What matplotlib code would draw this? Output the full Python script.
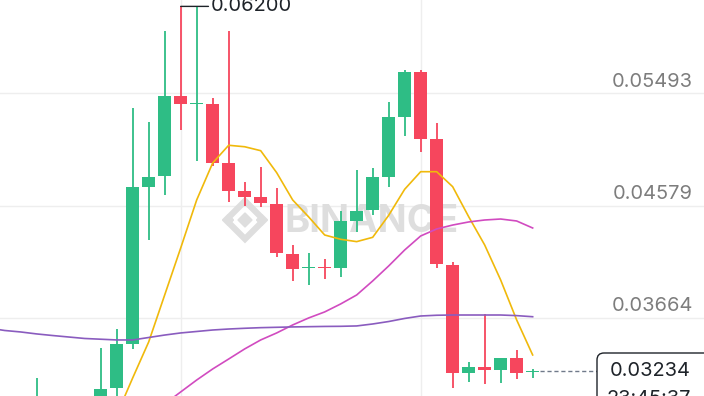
import numpy as np
import matplotlib.pyplot as plt
from matplotlib.patches import FancyBboxPatch
from matplotlib.transforms import IdentityTransform

plt.rcParams['font.family'] = ['Inter', 'DejaVu Sans']

# candles (oldest -> newest)
opens = [0.0290, 0.0293, 0.0291, 0.0294, 0.0298, 0.0292, 0.0296, 0.0294, 0.03093, 0.03453,
         0.04733, 0.04820, 0.05471, 0.05408, 0.05406, 0.04923, 0.04701, 0.04652, 0.04592, 0.04183,
         0.04074, 0.04082, 0.04074, 0.04456, 0.04544, 0.04814, 0.05303, 0.05664, 0.05119, 0.04096,
         0.03215, 0.03269, 0.03242, 0.03337, 0.03223]
highs = [0.0296, 0.0299, 0.0298, 0.03176, 0.0301, 0.0300, 0.0300, 0.03418, 0.03573, 0.05371,
         0.05257, 0.06000, 0.06200, 0.06195, 0.05452, 0.06000, 0.04769, 0.04891, 0.04720, 0.04259,
         0.04196, 0.04142, 0.04538, 0.04869, 0.04883, 0.05420, 0.05683, 0.05683, 0.05249, 0.04123,
         0.03304, 0.03695, 0.03340, 0.03405, 0.03249]
lows = [0.0285, 0.0288, 0.0286, 0.0290, 0.0289, 0.0287, 0.0290, 0.0291, 0.0300, 0.0341,
        0.04299, 0.04666, 0.05194, 0.04942, 0.04904, 0.04609, 0.04576, 0.04568, 0.04164, 0.03966,
        0.03935, 0.03980, 0.04001, 0.04367, 0.04503, 0.04728, 0.05146, 0.05018, 0.04069, 0.03093,
        0.03142, 0.03125, 0.03134, 0.03166, 0.03175]
closes = [0.0293, 0.0291, 0.0295, 0.0298, 0.0292, 0.0296, 0.0294, 0.03087, 0.03451, 0.04733,
          0.04814, 0.05471, 0.05406, 0.05415, 0.04926, 0.04701, 0.04652, 0.04601, 0.04191, 0.04066,
          0.04080, 0.04070, 0.04456, 0.04538, 0.04814, 0.05298, 0.05669, 0.05119, 0.04104, 0.03215,
          0.03269, 0.03242, 0.03337, 0.03215, 0.03234]

ma7 = [None] * 8 + [0.02876, 0.03177, 0.03470, 0.03852, 0.04234, 0.04625, 0.04926, 0.05070,
                    0.05058, 0.05026, 0.04847, 0.04625, 0.04487, 0.04340, 0.04305, 0.04286,
                    0.04321, 0.04500, 0.04712, 0.04855, 0.04855, 0.04733, 0.04489, 0.04259,
                    0.03974, 0.03649, 0.03364]
ma25 = [None] * 11 + [0.02965, 0.03063, 0.03160, 0.03250, 0.03331, 0.03413, 0.03486, 0.03543,
                      0.03608, 0.03665, 0.03714, 0.03779, 0.03852, 0.03966, 0.04088, 0.04218,
                      0.04332, 0.04389, 0.04421, 0.04446, 0.04462, 0.04470, 0.04454, 0.04397]
ma99 = [0.03583, 0.03563, 0.03551, 0.03535, 0.03522, 0.03510, 0.03498, 0.03492, 0.03486, 0.03486,
        0.03506, 0.03526, 0.03543, 0.03555, 0.03567, 0.03575, 0.03581, 0.03586, 0.03589, 0.03592,
        0.03594, 0.03596, 0.03597, 0.03600, 0.03616, 0.03636, 0.03661, 0.03681, 0.03687, 0.03689,
        0.03689, 0.03689, 0.03689, 0.03684, 0.03675]

grid_prices = [0.03664, 0.04579, 0.05493]
grid_times = [12, 27]
high_label = '0.06200'
last_label = '0.03234'
countdown = '23:45:37'

UP = '#2ebd85'
DOWN = '#f6465d'
WM = '#dedede'

fig = plt.figure(figsize=(7.04, 3.96), dpi=100)
ax = fig.add_axes([0, 0, 1, 1])
ax.set_xlim(0.706, 44.71)
ax.set_ylim(0.03030, 0.06252)
ax.axis('off')

for g in grid_prices:
    ax.axhline(g, color='#eeeeee', lw=1, zorder=0)
    ax.annotate(f'{g:.5f}', xy=(693 / 704, g), xycoords=('axes fraction', 'data'),
                xytext=(0, 2), textcoords='offset points', ha='right', va='bottom',
                fontsize=14.4, color='#7d7d7d')
for t in grid_times:
    ax.axvline(t, color='#eeeeee', lw=1, zorder=0)

# watermark (logo drawn in pixel space)
ax.text(0.528, 0.44, 'BINANCE', transform=ax.transAxes, ha='center', va='center',
        fontsize=27.5, fontweight='bold', color=WM, zorder=0.5)
cx, cy = 245, 176
px = IdentityTransform()
for dx, s in [(0, 7), (-17, 5.5), (17, 5.5)]:
    ax.fill([cx + dx - s, cx + dx, cx + dx + s, cx + dx], [cy, cy + s, cy, cy - s],
            color=WM, transform=px, zorder=0.5)
for sgn in (1, -1):
    ax.plot([cx - 13, cx, cx + 13], [cy + sgn * 6, cy + sgn * 19, cy + sgn * 6],
            color=WM, lw=4.5, solid_joinstyle='miter', transform=px, zorder=0.5)

x = np.arange(len(opens))
o = np.array(opens)
c = np.array(closes)
colors = [UP if cc >= oo else DOWN for oo, cc in zip(o, c)]
ax.vlines(x, lows, highs, colors=colors, lw=1.3, zorder=2)
body = np.maximum(np.abs(c - o), 0.00003)
ax.bar(x, body, bottom=np.minimum(o, c), width=0.8, color=colors, zorder=3)

ax.plot(x, np.array(ma7, dtype=float), color='#f0b90b', lw=1.2, zorder=4)
ax.plot(x, np.array(ma25, dtype=float), color='#d14bc0', lw=1.2, zorder=4)
ax.plot(x, np.array(ma99, dtype=float), color='#8a5cbf', lw=1.2, zorder=4)

# highest price marker
imax = int(np.argmax(highs))
ax.annotate(high_label, xy=(x[imax], highs[imax]), xytext=(22, 0), textcoords='offset points',
            ha='left', va='center', fontsize=14.4, color='#1e2329',
            arrowprops=dict(arrowstyle='-', color='#1e2329', lw=1, shrinkA=0, shrinkB=0))

# last price line + box
ax.plot([x[-1] + 0.45, 38.0], [closes[-1], closes[-1]], color='#707a8a', lw=1,
        dashes=(3, 2), zorder=4)
box = FancyBboxPatch((597, -30), 140, 396 - 353 + 30, boxstyle='round,pad=0,rounding_size=7',
                     facecolor='white', edgecolor='#1e2329', lw=1, transform=IdentityTransform(),
                     zorder=6, clip_on=False)
ax.add_patch(box)
ax.annotate(last_label, xy=(691 / 704, closes[-1]), xycoords=('axes fraction', 'data'),
            ha='right', va='center', fontsize=14.4, color='#1e2329', zorder=7)
ax.annotate(countdown, xy=(691 / 704, closes[-1]), xycoords=('axes fraction', 'data'),
            xytext=(0, -20), textcoords='offset points',
            ha='right', va='center', fontsize=14.4, color='#1e2329', zorder=7)

fig.savefig('out.png', dpi=100)
